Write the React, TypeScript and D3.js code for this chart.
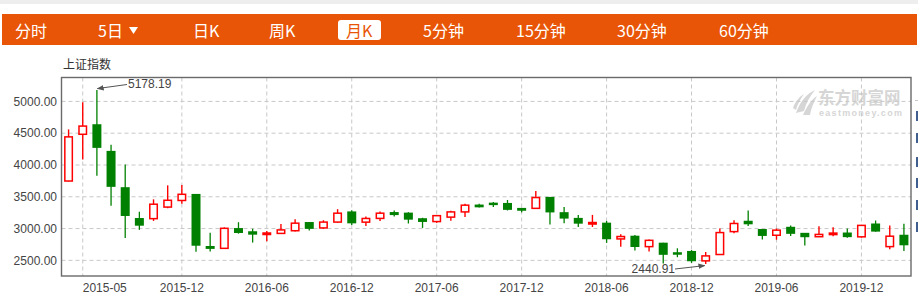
import React from "react";
import * as d3 from "d3";

const months = [
  "2015-04","2015-05","2015-06","2015-07","2015-08","2015-09","2015-10","2015-11","2015-12",
  "2016-01","2016-02","2016-03","2016-04","2016-05","2016-06","2016-07","2016-08","2016-09","2016-10","2016-11","2016-12",
  "2017-01","2017-02","2017-03","2017-04","2017-05","2017-06","2017-07","2017-08","2017-09","2017-10","2017-11","2017-12",
  "2018-01","2018-02","2018-03","2018-04","2018-05","2018-06","2018-07","2018-08","2018-09","2018-10","2018-11","2018-12",
  "2019-01","2019-02","2019-03","2019-04","2019-05","2019-06","2019-07","2019-08","2019-09","2019-10","2019-11","2019-12",
  "2020-01","2020-02","2020-03",
];
const open = [
  3748,4483,4633,4214,3643,3158,3156,3338,3442,
  3537,2718,2689,3000,2950,2914,2924,2966,3095,3010,3102,3262,
  3101,3160,3252,3243,3155,3110,3180,3262,3370,3400,3395,3317,
  3318,3490,3250,3160,3078,3085,2837,2880,2716,2770,2620,2640,
  2492,2592,2952,3115,2985,2895,3020,2925,2872,2906,2930,2870,
  3072,2716,2895,
];
const close = [
  4442,4612,4277,3664,3206,3053,3383,3445,3539,
  2738,2688,3004,2938,2912,2930,2979,3085,3003,3102,3242,3090,
  3159,3242,3220,3148,3112,3203,3262,3368,3342,3388,3302,3288,
  3488,3262,3165,3085,3095,2840,2875,2718,2815,2595,2605,2494,
  2570,2937,3080,3075,2892,2975,2925,2872,2908,2929,2873,3050,
  2960,2880,2745,
];
const high = [
  4560,4986,5178.19,4317,4006,3265,3460,3680,3685,
  3545,2934,3019,3100,2997,2960,3070,3145,3096,3131,3305,3290,
  3190,3270,3283,3258,3170,3205,3280,3390,3392,3418,3450,3325,
  3590,3495,3340,3215,3215,3120,2910,2900,2830,2775,2690,2662,
  2630,3000,3130,3285,2990,3000,3048,2930,3035,3022,3000,3050,
  3127,3050,3074,
];
const low = [
  3742,4085,3830,3357,2850,2980,3120,3320,3390,
  2635,2639,2682,2920,2780,2800,2924,2953,2969,2997,3092,3056,
  3040,3118,3189,3080,3010,3090,3122,3180,3331,3340,3285,3255,
  3314,3063,3085,3025,3025,2775,2715,2655,2640,2449,2550,2460,
  2440.91,2584,2925,3040,2830,2825,2883,2735,2870,2880,2855,2857,
  2950,2675,2646,
];
const xTickLabels = ["2015-05","2015-12","2016-06","2016-12","2017-06","2017-12","2018-06","2018-12","2019-06","2019-12"];
const yTicks = [2500, 3000, 3500, 4000, 4500, 5000];
const menuItems = ["分时", "5日", "日K", "周K", "月K", "5分钟", "15分钟", "30分钟", "60分钟"];
const menuX = [15, 98, 193, 269, 346, 423, 516, 617, 719];
const activeMenu = "月K";
const title = "上证指数";
const highLabel = "5178.19";
const lowLabel = "2440.91";

const W = 918, H = 296;
const L = 61.5, R = 911, T = 77.5, B = 276;
const ORANGE = "#E95506";
const RED = "#FF0000";
const GREEN = "#008000";
const num = "'Liberation Sans', Arial, sans-serif";
const cjk = "'Noto Sans CJK SC', 'Noto Sans', sans-serif";

export default function App() {
  const x = d3.scaleBand<string>().domain(months).range([L, R]).paddingInner(0).paddingOuter(0);
  const step = x.step();
  const cx = (m: string) => (x(m) as number) + step / 2;
  const y = d3.scaleLinear().domain([2254, 5376]).range([B, T]);
  const bw = 8.5;

  const hiIdx = high.indexOf(d3.max(high) as number);
  const loIdx = low.indexOf(d3.min(low) as number);
  const hx = cx(months[hiIdx]), hy = y(high[hiIdx]);
  const lx = cx(months[loIdx]), ly = y(low[loIdx]);

  return (
    <div style={{ position: "absolute", left: 0, top: 0, width: W, height: H, background: "#fff" }}>
      <svg width={W} height={H} style={{ display: "block" }}>
        <defs>
          <marker id="arr" viewBox="0 0 10 10" refX="9" refY="5" markerWidth="7" markerHeight="7" orient="auto-start-reverse">
            <path d="M0,1 L10,5 L0,9 z" fill="#555" />
          </marker>
        </defs>
        <rect x={0} y={0} width={W} height={4} fill="#eeeeee" />
        <rect x={2} y={14} width={915} height={31} fill={ORANGE} />
        <rect x={338} y={20} width={43} height={20} rx={3} fill="#fff" />
        {menuItems.map((m, i) => (
          <text key={m} x={menuX[i]} y={36.5} fontSize={16} fontFamily={cjk}
            fill={m === activeMenu ? ORANGE : "#fff"}>{m}</text>
        ))}
        <path d="M129,27 L138,27 L133.5,34 Z" fill="#fff" />

        <text x={63} y={69} fontSize={12} fontFamily={cjk} fill="#333">{title}</text>

        {/* watermark */}
        <g fill="#d6d6d6">
          <path d="M796,113 C800,102 806,94 815,90 C810,96 806,103 804,111 Z" />
          <path d="M803,115 C807,106 812,99 817,96 C814,102 811,108 810,115 Z" />
          <path d="M793,108 C795,102 799,97 804,94 C800,100 797,105 796,110 Z" />
          <text x={818} y={104} fontSize={16.5} fontWeight="bold" fontFamily={cjk}>东方财富网</text>
          <text x={819} y={116} fontSize={9} fontWeight="bold" fontFamily={num} letterSpacing={1.3}>eastmoney.com</text>
        </g>

        {/* grid */}
        {yTicks.map((t) => (
          <line key={t} x1={L} x2={R} y1={y(t)} y2={y(t)} stroke="#c8c8c8" strokeDasharray="4,3" />
        ))}
        {xTickLabels.map((m) => (
          <line key={m} x1={cx(m)} x2={cx(m)} y1={T} y2={B} stroke="#c8c8c8" strokeDasharray="4,3" />
        ))}

        {/* candles */}
        {months.map((m, i) => {
          const up = close[i] >= open[i];
          const c = cx(m);
          const top = y(Math.max(open[i], close[i]));
          const bot = y(Math.min(open[i], close[i]));
          const h = Math.max(bot - top, 1.5);
          return (
            <g key={m}>
              <line x1={c} x2={c} y1={y(high[i])} y2={y(low[i])} stroke={up ? RED : GREEN} strokeWidth={up ? 1.4 : 1.3} />
              {up ? (
                <rect x={c - bw / 2 + 0.5} y={top} width={bw - 1} height={h} fill="#fff" stroke={RED} strokeWidth={1.5} />
              ) : (
                <rect x={c - bw / 2 - 0.25} y={top - 0.5} width={bw + 0.5} height={h + 1} fill={GREEN} />
              )}
            </g>
          );
        })}

        {/* frame */}
        <rect x={L} y={T} width={R - L} height={B - T} fill="none" stroke="#6a6a6a" strokeWidth={1.4} />

        {/* y labels */}
        {yTicks.map((t) => (
          <text key={t} x={57} y={y(t)} dy="0.35em" textAnchor="end" fontSize={12} fontFamily={num} fill="#444">
            {t.toFixed(2)}
          </text>
        ))}
        {/* x labels */}
        {xTickLabels.map((m, i) => (
          <text key={m} x={cx(m)} y={291.5} textAnchor={i === 0 ? "start" : "middle"}
            fontSize={12} fontFamily={num} fill="#444">{m}</text>
        ))}

        {/* annotations */}
        <line x1={127} y1={84.5} x2={hx + 0.5} y2={hy - 1.5} stroke="#555" strokeWidth={1} markerEnd="url(#arr)" />
        <text x={128} y={83.5} dy="0.35em" fontSize={12} fontFamily={num} fill="#444">{highLabel}</text>
        <line x1={675} y1={269} x2={lx - 1} y2={ly + 1.5} stroke="#555" strokeWidth={1} markerEnd="url(#arr)" />
        <text x={675} y={268.5} dy="0.35em" textAnchor="end" fontSize={12} fontFamily={num} fill="#444">{lowLabel}</text>

        {/* cut-off side panel marks */}
        {[111, 133, 157, 178, 200, 222].map((v) => (
          <rect key={v} x={916} y={v} width={2} height={10} fill="#3f5f8f" />
        ))}
        <line x1={915} x2={918} y1={100.5} y2={100.5} stroke="#c8c8c8" />
      </svg>
    </div>
  );
}
